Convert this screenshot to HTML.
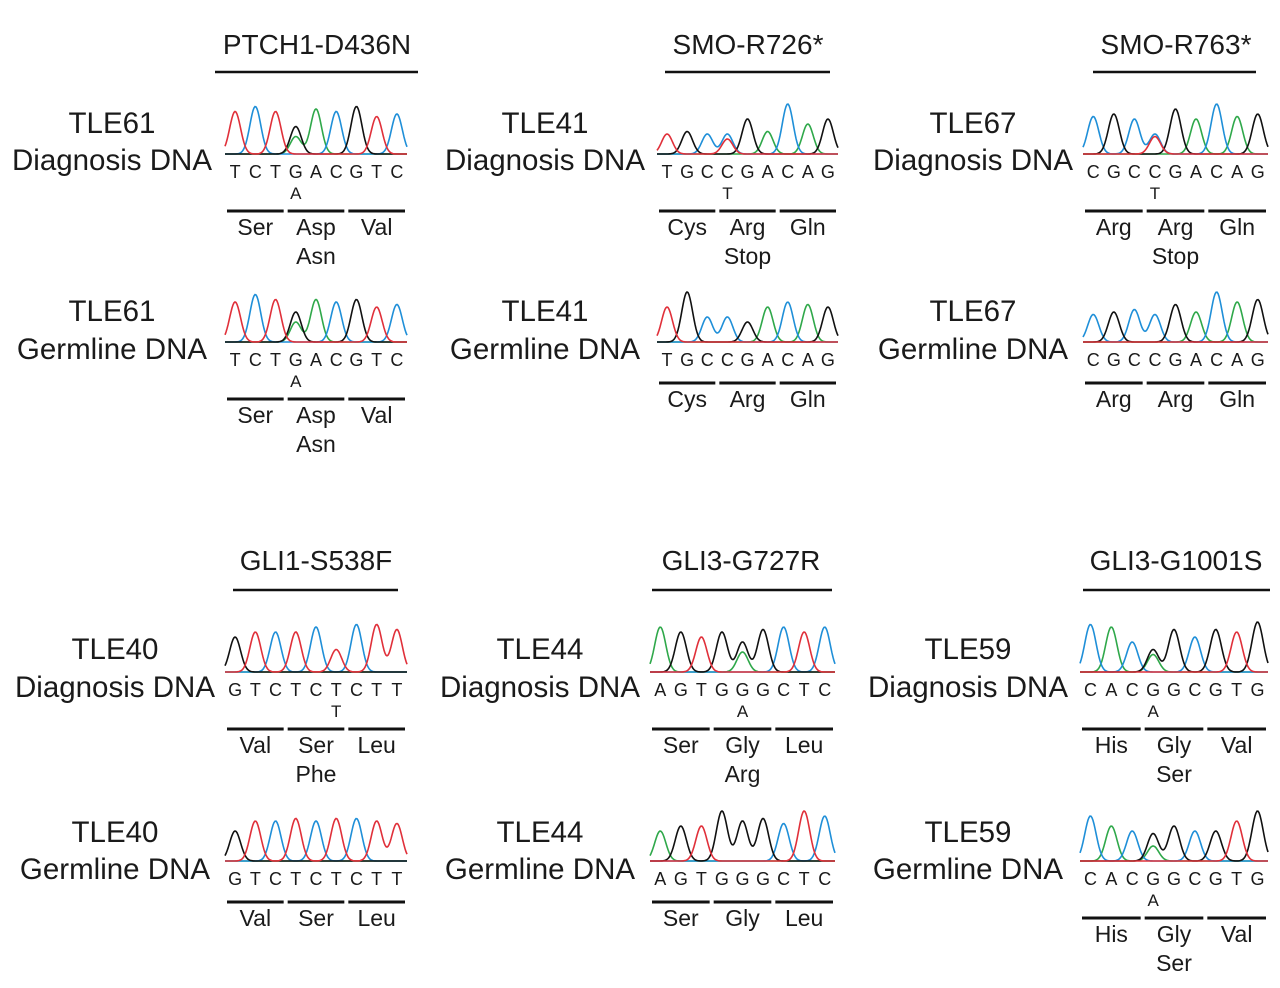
<!DOCTYPE html>
<html><head><meta charset="utf-8"><style>
html,body{margin:0;padding:0;background:#fff}
svg text{font-family:"Liberation Sans",sans-serif;fill:#1a1a1a}
</style></head><body>
<svg id="fig" width="1280" height="983" viewBox="0 0 1280 983" xmlns="http://www.w3.org/2000/svg"></svg>
<script>
// ---- data ----
const titles = ["PTCH1-D436N","SMO-R726*","SMO-R763*","GLI1-S538F","GLI3-G727R","GLI3-G1001S"];
const samples = ["TLE61","TLE41","TLE67","TLE40","TLE44","TLE59"];
const seqDiag = ["TCTGACGTC","TGCCGACAG","CGCCGACAG","GTCTCTCTT","AGTGGGCTC","CACGGCGTG"];
const seqGerm = ["TCTGACGTC","TGCCGACAG","CGCCGACAG","GTCTCTCTT","AGTGGGCTC","CACGGCGTG"];
const hDiag = [
 [0.85,0.95,0.85,0.55,0.9,0.85,0.95,0.75,0.8],
 [0.4,0.45,0.4,0.4,0.7,0.45,1.0,0.6,0.7],
 [0.75,0.8,0.7,0.4,0.9,0.7,1.0,0.75,0.8],
 [0.7,0.8,0.8,0.8,0.9,0.45,0.95,0.95,0.85],
 [0.9,0.8,0.7,0.8,0.6,0.85,0.9,0.8,0.9],
 [0.95,0.9,0.6,0.45,0.85,0.7,0.85,0.8,1.0]];
const hGerm = [
 [0.8,0.95,0.85,0.6,0.85,0.8,0.85,0.7,0.75],
 [0.7,1.0,0.5,0.5,0.4,0.7,0.8,0.75,0.7],
 [0.55,0.6,0.65,0.55,0.75,0.6,1.0,0.8,0.85],
 [0.6,0.8,0.8,0.85,0.8,0.85,0.85,0.8,0.75],
 [0.6,0.7,0.7,1.0,0.8,0.85,0.75,1.0,0.9],
 [0.9,0.7,0.6,0.55,0.7,0.6,0.6,0.8,1.0]];
const mutPos = [3,3,3,5,4,3];
const mutBase = ["A","T","T","T","A","A"];
const mutHDiag = [0.35,0.3,0.35,0.4,0.4,0.35];
const mutHGerm = [0.4,0,0,0,0,0.3];
const codonsDiag = [["Ser","Asp","Val"],["Cys","Arg","Gln"],["Arg","Arg","Gln"],["Val","Ser","Leu"],["Ser","Gly","Leu"],["His","Gly","Val"]];
const codon2 = ["Asn","Stop","Stop","Phe","Arg","Ser"];
const germHasMut = [true,false,false,false,false,true];

// ---- layout ----
const L = [
 {tcx:317,ty:54,ul:[215,418],uy:72,lcx:112,cx:[225,407]},
 {tcx:748,ty:54,ul:[665,830],uy:72,lcx:545,cx:[657,838]},
 {tcx:1176,ty:54,ul:[1093,1256],uy:72,lcx:973,cx:[1083,1268]},
 {tcx:316,ty:570,ul:[233,398],uy:590,lcx:115,cx:[225,407]},
 {tcx:741,ty:570,ul:[652,832],uy:590,lcx:540,cx:[650,835]},
 {tcx:1176,ty:570,ul:[1083,1270],uy:590,lcx:968,cx:[1080,1268]}];
const rowTops = [[155,343],[155,343],[155,343],[673,862],[673,862],[673,862]];
const labelOff = [[[-22,15],[-22,16]],[[-22,15],[-22,16]],[[-22,15],[-22,16]],[[-14,24],[-20,17]],[[-14,24],[-20,17]],[[-14,24],[-20,17]]];
const colors = {A:"#2fa84a",C:"#1f8fd8",G:"#111",T:"#e0303a"};
const NS="http://www.w3.org/2000/svg";
const svg=document.getElementById('fig');
function mk(tag,attrs,parent){const e=document.createElementNS(NS,tag);for(const k in attrs)e.setAttribute(k,attrs[k]);(parent||svg).appendChild(e);return e;}
function txt(x,y,s,size,anchor,parent){const t=mk('text',{x:x,y:y,'font-size':size,'text-anchor':anchor||'middle'},parent);t.textContent=s;return t;}

function chrom(g,x0,x1,base,seq,h,mp,mb,mh){
  const step=(x1-x0)/seq.length, H=50, sig=step*0.27;
  const xs=i=>x0+step*(i+0.5);
  ["A","C","G","T"].forEach(ch=>{
    let d="";
    for(let x=x0;x<=x1;x+=1){
      let y=0;
      for(let i=0;i<seq.length;i++){
        let hh=0;
        if(seq[i]===ch)hh=h[i];
        if(i===mp&&mb===ch&&mh>0)hh=Math.max(hh,mh);
        if(hh>0)y+=hh*Math.exp(-Math.pow((x-xs(i))/sig,2)/2);
      }
      d+=(d?"L":"M")+x+","+(base-1-y*H).toFixed(1);
    }
    const p=mk('path',{d:d,fill:'none',stroke:colors[ch],'stroke-width':1.6},g);
    
    
  });
  return {step,xs};
}

for(let p=0;p<6;p++){
  const l=L[p];
  const g=mk('g',{});
  
  
  const t=txt(l.tcx,l.ty,titles[p],28,'middle',g);
  
  
  mk('line',{x1:l.ul[0],x2:l.ul[1],y1:l.uy,y2:l.uy,stroke:'#111','stroke-width':2.5},g);
  for(let r=0;r<2;r++){
    const diag=r===0;
    const base=rowTops[p][r];
    const rg=mk('g',{},g);
    
    
    txt(l.lcx,base+labelOff[p][r][0],samples[p],29.5,'middle',rg);
    txt(l.lcx,base+labelOff[p][r][1],diag?"Diagnosis DNA":"Germline DNA",29.5,'middle',rg);
    const seq=diag?seqDiag[p]:seqGerm[p];
    const h=diag?hDiag[p]:hGerm[p];
    const mh=diag?mutHDiag[p]:mutHGerm[p];
    const c=chrom(rg,l.cx[0],l.cx[1],base,seq,h,mutPos[p],mutBase[p],mh);
    for(let i=0;i<seq.length;i++){txt(c.xs(i),base+23,seq[i],18,'middle',rg);}
    const hasMut=diag||germHasMut[p];
    let y=base+23;
    if(hasMut){txt(c.xs(mutPos[p]),base+44,mutBase[p],17,'middle',rg);y=base+39;}
    const by=y+17;
    for(let k=0;k<3;k++){
      const a=l.cx[0]+c.step*3*k+2, b=l.cx[0]+c.step*3*(k+1)-2;
      mk('line',{x1:a,x2:b,y1:by,y2:by,stroke:'#111','stroke-width':3},rg);
      txt((a+b)/2,by+24,codonsDiag[p][k],23,'middle',rg);
    }
    if(hasMut){const mc=Math.floor(mutPos[p]/3);txt(l.cx[0]+c.step*(3*mc+1.5),by+53,codon2[p],23,'middle',rg);}
  }
}
</script>
</body></html>
